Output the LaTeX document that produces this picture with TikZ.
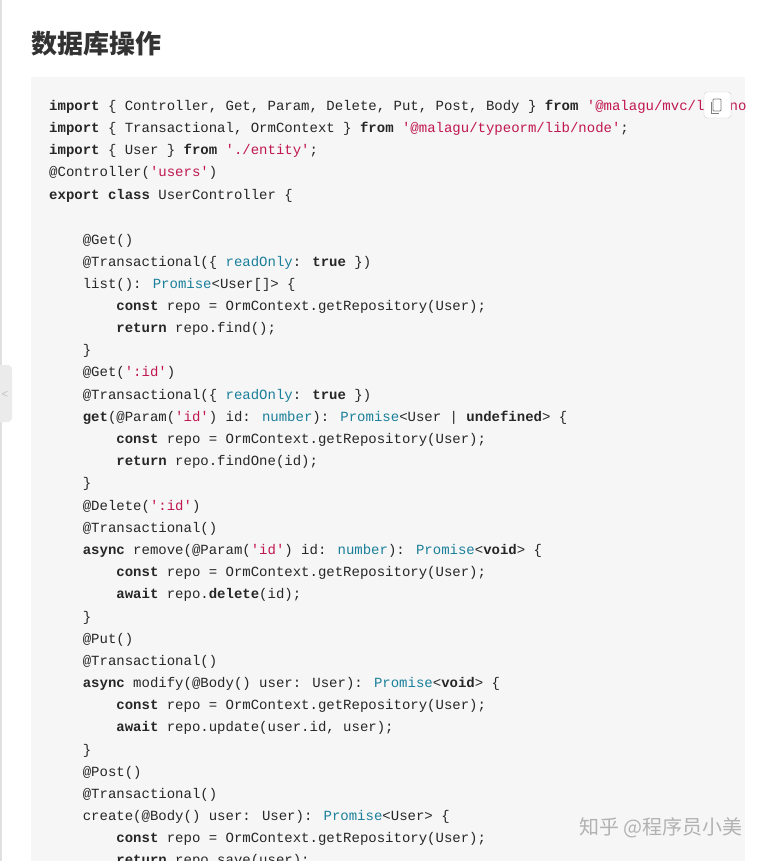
\documentclass[tikz,border=0pt]{standalone}
\usepackage{fontspec}
\setmainfont{Liberation Sans}
\newfontfamily\codef{Liberation Mono}
\newfontfamily\cjk{Noto Sans CJK SC}
\definecolor{strc}{HTML}{C0174F}
\definecolor{typc}{HTML}{1A7F9A}
\definecolor{bgc}{HTML}{F6F6F6}
\newcommand\K[1]{\textbf{#1}}
\newcommand\Sq[1]{\textcolor{strc}{\char"27#1\char"27}}
\newcommand\T[1]{\textcolor{typc}{#1}}
\tikzset{cl/.style={anchor=base west,inner sep=0pt,font=\codef\fontsize{14}{16}\selectfont,text=black!85}}
\begin{document}
\begin{tikzpicture}[x=1pt,y=-1pt]
\useasboundingbox (0,0) rectangle (761,861);
\fill[white] (0,0) rectangle (761,861);
\fill[black!12] (0,0) rectangle (1.5,861);
\fill[black!8,rounded corners=4pt] (-6,365) rectangle (12,422);
\node[font=\sffamily\small,text=black!40] (tab) at (5,394) {\textless};
\node[anchor=west,inner sep=0pt,font=\cjk\bfseries\fontsize{26}{30}\selectfont,text=black!80] (title) at (31,44) {数据库操作};
\fill[bgc] (31,77) rectangle (745,861);
\begin{scope}
\clip (31,77) rectangle (745,861);
\def\L#1#2#3{\node[cl] at (49+#1*33.6,#2+5) {#3};}
\L0{106}{\K{import} \{ Controller, Get, Param, Delete, Put, Post, Body \} \K{from} \textcolor{strc}{\char"27@malagu/mvc/lib/node\char"27};}
\L0{128}{\K{import} \{ Transactional, OrmContext \} \K{from} \Sq{@malagu/typeorm/lib/node};}
\L0{150}{\K{import} \{ User \} \K{from} \Sq{./entity};}
\L0{172}{@Controller(\Sq{users})}
\L0{194}{\K{export} \K{class} UserController \{}
\L1{239}{@Get()}
\L1{261}{@Transactional(\{ \T{readOnly}: \K{true} \})}
\L1{283}{list(): \T{Promise}<User[]> \{}
\L2{305}{\K{const} repo = OrmContext.getRepository(User);}
\L2{327}{\K{return} repo.find();}
\L1{349}{\}}
\L1{371}{@Get(\Sq{:id})}
\L1{394}{@Transactional(\{ \T{readOnly}: \K{true} \})}
\L1{416}{\K{get}(@Param(\Sq{id}) id: \T{number}): \T{Promise}<User | \K{undefined}> \{}
\L2{438}{\K{const} repo = OrmContext.getRepository(User);}
\L2{460}{\K{return} repo.findOne(id);}
\L1{482}{\}}
\L1{505}{@Delete(\Sq{:id})}
\L1{527}{@Transactional()}
\L1{549}{\K{async} remove(@Param(\Sq{id}) id: \T{number}): \T{Promise}<\K{void}> \{}
\L2{571}{\K{const} repo = OrmContext.getRepository(User);}
\L2{593}{\K{await} repo.\K{delete}(id);}
\L1{616}{\}}
\L1{638}{@Put()}
\L1{660}{@Transactional()}
\L1{682}{\K{async} modify(@Body() user: User): \T{Promise}<\K{void}> \{}
\L2{704}{\K{const} repo = OrmContext.getRepository(User);}
\L2{726}{\K{await} repo.update(user.id, user);}
\L1{749}{\}}
\L1{771}{@Post()}
\L1{793}{@Transactional()}
\L1{815}{create(@Body() user: User): \T{Promise}<User> \{}
\L2{837}{\K{const} repo = OrmContext.getRepository(User);}
\L2{859}{\K{return} repo.save(user);}
\end{scope}
\draw[black!20,fill=white,rounded corners=3pt] (704,92) rectangle (731,118);
\draw[black!50,line width=0.8pt,rounded corners=1pt] (713,99) rectangle (721,111);
\draw[black!50,line width=0.8pt] (711,102) -- (711,113) -- (719,113);
\node[anchor=east,inner sep=0pt,font=\cjk\fontsize{20}{24}\selectfont,text=black!30] (wm) at (743,828) {知乎 @程序员小美};
\end{tikzpicture}
\end{document}
